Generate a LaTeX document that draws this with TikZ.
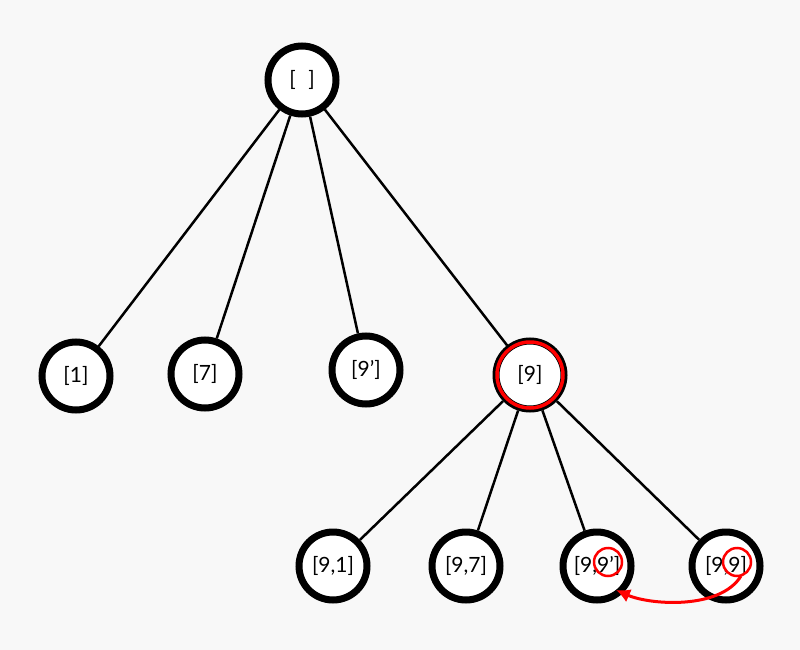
\documentclass[tikz,border=0pt]{standalone}
\usetikzlibrary{arrows.meta}
\usepackage{fontspec}
\setmainfont{Lato}
\begin{document}
\begin{tikzpicture}[x=1pt,y=-1pt,
  nd/.style={circle,draw=black,line width=7pt,fill=white,minimum size=68pt,inner sep=0pt,font=\fontsize{21}{24}\selectfont},
  edge/.style={line width=2.5pt}]
\useasboundingbox[fill={rgb,255:red,248;green,248;blue,248}] (0,0) rectangle (800,650);
\node[nd] (r) at (302,80) {[\hspace{0.6em}]};
\node[nd] (a) at (76,376) {[1]};
\node[nd] (b) at (205,374) {[7]};
\node[nd] (c) at (366,370) {[9']};
\node[nd] (d) at (530,375) {[9]};
\node[nd] (e) at (333,566) {[9,1]};
\node[nd] (f) at (466,566) {[9,7]};
\node[nd] (g) at (597,566) {[9,9']};
\node[nd] (h) at (726,566) {[9,9]};
\foreach \t in {a,b,c,d} \draw[edge] (r) -- (\t);
\foreach \t in {e,f,g,h} \draw[edge] (d) -- (\t);
\draw[red,line width=3.5pt] (d.center) circle (33pt);
\coordinate (gc) at (608,562);
\coordinate (hc) at (737,562);
\draw[red,line width=2.5pt] (gc) circle (14pt);
\draw[red,line width=2.5pt] (hc) circle (14pt);
\coordinate (hs) at (741,576);
\coordinate (ge) at (616,590);
\draw[red,line width=3pt,-{Latex[length=14pt,width=14pt]}] (hs) .. controls (720,610) and (650,605) .. (ge);
\end{tikzpicture}
\end{document}
